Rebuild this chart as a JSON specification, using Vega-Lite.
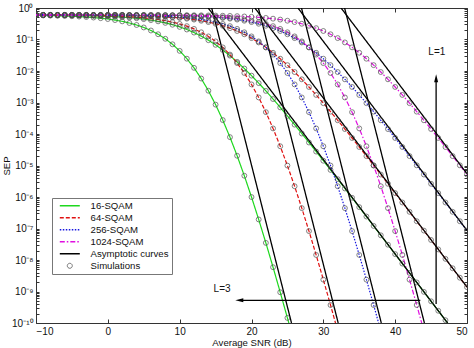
{
"$schema":"https://vega.github.io/schema/vega-lite/v6.json",
"autosize":{"type":"none"},
"width":431,"height":315,
"padding":{"left":36,"top":8,"right":7,"bottom":25},
"background":"white",
"datasets":{
"curves":[
{"s":-10,"p":-0.224,"c":"16-SQAM","L":1},{"s":-9,"p":-0.226,"c":"16-SQAM","L":1},{"s":-8,"p":-0.227,"c":"16-SQAM","L":1},{"s":-7,"p":-0.229,"c":"16-SQAM","L":1},{"s":-6,"p":-0.231,"c":"16-SQAM","L":1},{"s":-5,"p":-0.234,"c":"16-SQAM","L":1},{"s":-4,"p":-0.237,"c":"16-SQAM","L":1},{"s":-3,"p":-0.242,"c":"16-SQAM","L":1},{"s":-2,"p":-0.248,"c":"16-SQAM","L":1},{"s":-1,"p":-0.255,"c":"16-SQAM","L":1},
{"s":0,"p":-0.263,"c":"16-SQAM","L":1},{"s":1,"p":-0.274,"c":"16-SQAM","L":1},{"s":2,"p":-0.288,"c":"16-SQAM","L":1},{"s":3,"p":-0.305,"c":"16-SQAM","L":1},{"s":4,"p":-0.326,"c":"16-SQAM","L":1},{"s":5,"p":-0.353,"c":"16-SQAM","L":1},{"s":6,"p":-0.385,"c":"16-SQAM","L":1},{"s":7,"p":-0.424,"c":"16-SQAM","L":1},{"s":8,"p":-0.472,"c":"16-SQAM","L":1},{"s":9,"p":-0.531,"c":"16-SQAM","L":1},
{"s":10,"p":-0.600,"c":"16-SQAM","L":1},{"s":11,"p":-0.683,"c":"16-SQAM","L":1},{"s":12,"p":-0.780,"c":"16-SQAM","L":1},{"s":13,"p":-0.893,"c":"16-SQAM","L":1},{"s":14,"p":-1.022,"c":"16-SQAM","L":1},{"s":15,"p":-1.169,"c":"16-SQAM","L":1},{"s":16,"p":-1.333,"c":"16-SQAM","L":1},{"s":17,"p":-1.513,"c":"16-SQAM","L":1},{"s":18,"p":-1.710,"c":"16-SQAM","L":1},{"s":19,"p":-1.922,"c":"16-SQAM","L":1},
{"s":20,"p":-2.147,"c":"16-SQAM","L":1},{"s":21,"p":-2.384,"c":"16-SQAM","L":1},{"s":22,"p":-2.632,"c":"16-SQAM","L":1},{"s":23,"p":-2.890,"c":"16-SQAM","L":1},{"s":24,"p":-3.155,"c":"16-SQAM","L":1},{"s":25,"p":-3.426,"c":"16-SQAM","L":1},{"s":26,"p":-3.703,"c":"16-SQAM","L":1},{"s":27,"p":-3.985,"c":"16-SQAM","L":1},{"s":28,"p":-4.270,"c":"16-SQAM","L":1},{"s":29,"p":-4.558,"c":"16-SQAM","L":1},
{"s":30,"p":-4.848,"c":"16-SQAM","L":1},{"s":31,"p":-5.140,"c":"16-SQAM","L":1},{"s":32,"p":-5.434,"c":"16-SQAM","L":1},{"s":33,"p":-5.729,"c":"16-SQAM","L":1},{"s":34,"p":-6.025,"c":"16-SQAM","L":1},{"s":35,"p":-6.322,"c":"16-SQAM","L":1},{"s":36,"p":-6.620,"c":"16-SQAM","L":1},{"s":37,"p":-6.918,"c":"16-SQAM","L":1},{"s":38,"p":-7.216,"c":"16-SQAM","L":1},{"s":39,"p":-7.515,"c":"16-SQAM","L":1},
{"s":40,"p":-7.814,"c":"16-SQAM","L":1},{"s":41,"p":-8.113,"c":"16-SQAM","L":1},{"s":42,"p":-8.412,"c":"16-SQAM","L":1},{"s":43,"p":-8.712,"c":"16-SQAM","L":1},{"s":44,"p":-9.012,"c":"16-SQAM","L":1},{"s":45,"p":-9.311,"c":"16-SQAM","L":1},{"s":46,"p":-9.611,"c":"16-SQAM","L":1},{"s":47,"p":-9.911,"c":"16-SQAM","L":1},{"s":48,"p":-10.211,"c":"16-SQAM","L":1},
{"s":-10,"p":-0.233,"c":"16-SQAM","L":3},{"s":-9,"p":-0.237,"c":"16-SQAM","L":3},{"s":-8,"p":-0.241,"c":"16-SQAM","L":3},{"s":-7,"p":-0.246,"c":"16-SQAM","L":3},{"s":-6,"p":-0.253,"c":"16-SQAM","L":3},{"s":-5,"p":-0.262,"c":"16-SQAM","L":3},{"s":-4,"p":-0.272,"c":"16-SQAM","L":3},{"s":-3,"p":-0.286,"c":"16-SQAM","L":3},{"s":-2,"p":-0.303,"c":"16-SQAM","L":3},{"s":-1,"p":-0.324,"c":"16-SQAM","L":3},
{"s":0,"p":-0.350,"c":"16-SQAM","L":3},{"s":1,"p":-0.383,"c":"16-SQAM","L":3},{"s":2,"p":-0.424,"c":"16-SQAM","L":3},{"s":3,"p":-0.476,"c":"16-SQAM","L":3},{"s":4,"p":-0.539,"c":"16-SQAM","L":3},{"s":5,"p":-0.618,"c":"16-SQAM","L":3},{"s":6,"p":-0.714,"c":"16-SQAM","L":3},{"s":7,"p":-0.833,"c":"16-SQAM","L":3},{"s":8,"p":-0.977,"c":"16-SQAM","L":3},{"s":9,"p":-1.152,"c":"16-SQAM","L":3},
{"s":10,"p":-1.361,"c":"16-SQAM","L":3},{"s":11,"p":-1.609,"c":"16-SQAM","L":3},{"s":12,"p":-1.900,"c":"16-SQAM","L":3},{"s":13,"p":-2.239,"c":"16-SQAM","L":3},{"s":14,"p":-2.627,"c":"16-SQAM","L":3},{"s":15,"p":-3.067,"c":"16-SQAM","L":3},{"s":16,"p":-3.558,"c":"16-SQAM","L":3},{"s":17,"p":-4.100,"c":"16-SQAM","L":3},{"s":18,"p":-4.690,"c":"16-SQAM","L":3},{"s":19,"p":-5.325,"c":"16-SQAM","L":3},
{"s":20,"p":-6.001,"c":"16-SQAM","L":3},{"s":21,"p":-6.713,"c":"16-SQAM","L":3},{"s":22,"p":-7.457,"c":"16-SQAM","L":3},{"s":23,"p":-8.229,"c":"16-SQAM","L":3},{"s":24,"p":-9.024,"c":"16-SQAM","L":3},{"s":25,"p":-9.839,"c":"16-SQAM","L":3},{"s":26,"p":-10.669,"c":"16-SQAM","L":3},
{"s":-10,"p":-0.221,"c":"64-SQAM","L":1},{"s":-9,"p":-0.221,"c":"64-SQAM","L":1},{"s":-8,"p":-0.222,"c":"64-SQAM","L":1},{"s":-7,"p":-0.222,"c":"64-SQAM","L":1},{"s":-6,"p":-0.222,"c":"64-SQAM","L":1},{"s":-5,"p":-0.223,"c":"64-SQAM","L":1},{"s":-4,"p":-0.224,"c":"64-SQAM","L":1},{"s":-3,"p":-0.225,"c":"64-SQAM","L":1},{"s":-2,"p":-0.226,"c":"64-SQAM","L":1},{"s":-1,"p":-0.228,"c":"64-SQAM","L":1},
{"s":0,"p":-0.230,"c":"64-SQAM","L":1},{"s":1,"p":-0.232,"c":"64-SQAM","L":1},{"s":2,"p":-0.236,"c":"64-SQAM","L":1},{"s":3,"p":-0.240,"c":"64-SQAM","L":1},{"s":4,"p":-0.245,"c":"64-SQAM","L":1},{"s":5,"p":-0.251,"c":"64-SQAM","L":1},{"s":6,"p":-0.259,"c":"64-SQAM","L":1},{"s":7,"p":-0.269,"c":"64-SQAM","L":1},{"s":8,"p":-0.281,"c":"64-SQAM","L":1},{"s":9,"p":-0.296,"c":"64-SQAM","L":1},
{"s":10,"p":-0.315,"c":"64-SQAM","L":1},{"s":11,"p":-0.339,"c":"64-SQAM","L":1},{"s":12,"p":-0.368,"c":"64-SQAM","L":1},{"s":13,"p":-0.404,"c":"64-SQAM","L":1},{"s":14,"p":-0.447,"c":"64-SQAM","L":1},{"s":15,"p":-0.500,"c":"64-SQAM","L":1},{"s":16,"p":-0.564,"c":"64-SQAM","L":1},{"s":17,"p":-0.640,"c":"64-SQAM","L":1},{"s":18,"p":-0.730,"c":"64-SQAM","L":1},{"s":19,"p":-0.834,"c":"64-SQAM","L":1},
{"s":20,"p":-0.955,"c":"64-SQAM","L":1},{"s":21,"p":-1.093,"c":"64-SQAM","L":1},{"s":22,"p":-1.249,"c":"64-SQAM","L":1},{"s":23,"p":-1.421,"c":"64-SQAM","L":1},{"s":24,"p":-1.610,"c":"64-SQAM","L":1},{"s":25,"p":-1.814,"c":"64-SQAM","L":1},{"s":26,"p":-2.033,"c":"64-SQAM","L":1},{"s":27,"p":-2.264,"c":"64-SQAM","L":1},{"s":28,"p":-2.507,"c":"64-SQAM","L":1},{"s":29,"p":-2.760,"c":"64-SQAM","L":1},
{"s":30,"p":-3.021,"c":"64-SQAM","L":1},{"s":31,"p":-3.290,"c":"64-SQAM","L":1},{"s":32,"p":-3.564,"c":"64-SQAM","L":1},{"s":33,"p":-3.843,"c":"64-SQAM","L":1},{"s":34,"p":-4.127,"c":"64-SQAM","L":1},{"s":35,"p":-4.413,"c":"64-SQAM","L":1},{"s":36,"p":-4.702,"c":"64-SQAM","L":1},{"s":37,"p":-4.994,"c":"64-SQAM","L":1},{"s":38,"p":-5.287,"c":"64-SQAM","L":1},{"s":39,"p":-5.581,"c":"64-SQAM","L":1},
{"s":40,"p":-5.877,"c":"64-SQAM","L":1},{"s":41,"p":-6.174,"c":"64-SQAM","L":1},{"s":42,"p":-6.471,"c":"64-SQAM","L":1},{"s":43,"p":-6.769,"c":"64-SQAM","L":1},{"s":44,"p":-7.067,"c":"64-SQAM","L":1},{"s":45,"p":-7.365,"c":"64-SQAM","L":1},{"s":46,"p":-7.664,"c":"64-SQAM","L":1},{"s":47,"p":-7.963,"c":"64-SQAM","L":1},{"s":48,"p":-8.263,"c":"64-SQAM","L":1},{"s":49,"p":-8.562,"c":"64-SQAM","L":1},{"s":50,"p":-8.862,"c":"64-SQAM","L":1},
{"s":-10,"p":-0.223,"c":"64-SQAM","L":3},{"s":-9,"p":-0.224,"c":"64-SQAM","L":3},{"s":-8,"p":-0.225,"c":"64-SQAM","L":3},{"s":-7,"p":-0.226,"c":"64-SQAM","L":3},{"s":-6,"p":-0.227,"c":"64-SQAM","L":3},{"s":-5,"p":-0.229,"c":"64-SQAM","L":3},{"s":-4,"p":-0.232,"c":"64-SQAM","L":3},{"s":-3,"p":-0.235,"c":"64-SQAM","L":3},{"s":-2,"p":-0.239,"c":"64-SQAM","L":3},{"s":-1,"p":-0.243,"c":"64-SQAM","L":3},
{"s":0,"p":-0.250,"c":"64-SQAM","L":3},{"s":1,"p":-0.257,"c":"64-SQAM","L":3},{"s":2,"p":-0.267,"c":"64-SQAM","L":3},{"s":3,"p":-0.279,"c":"64-SQAM","L":3},{"s":4,"p":-0.294,"c":"64-SQAM","L":3},{"s":5,"p":-0.313,"c":"64-SQAM","L":3},{"s":6,"p":-0.336,"c":"64-SQAM","L":3},{"s":7,"p":-0.366,"c":"64-SQAM","L":3},{"s":8,"p":-0.403,"c":"64-SQAM","L":3},{"s":9,"p":-0.449,"c":"64-SQAM","L":3},
{"s":10,"p":-0.506,"c":"64-SQAM","L":3},{"s":11,"p":-0.576,"c":"64-SQAM","L":3},{"s":12,"p":-0.664,"c":"64-SQAM","L":3},{"s":13,"p":-0.771,"c":"64-SQAM","L":3},{"s":14,"p":-0.902,"c":"64-SQAM","L":3},{"s":15,"p":-1.060,"c":"64-SQAM","L":3},{"s":16,"p":-1.251,"c":"64-SQAM","L":3},{"s":17,"p":-1.479,"c":"64-SQAM","L":3},{"s":18,"p":-1.749,"c":"64-SQAM","L":3},{"s":19,"p":-2.063,"c":"64-SQAM","L":3},
{"s":20,"p":-2.426,"c":"64-SQAM","L":3},{"s":21,"p":-2.840,"c":"64-SQAM","L":3},{"s":22,"p":-3.306,"c":"64-SQAM","L":3},{"s":23,"p":-3.823,"c":"64-SQAM","L":3},{"s":24,"p":-4.389,"c":"64-SQAM","L":3},{"s":25,"p":-5.002,"c":"64-SQAM","L":3},{"s":26,"p":-5.658,"c":"64-SQAM","L":3},{"s":27,"p":-6.353,"c":"64-SQAM","L":3},{"s":28,"p":-7.082,"c":"64-SQAM","L":3},{"s":29,"p":-7.840,"c":"64-SQAM","L":3},
{"s":30,"p":-8.624,"c":"64-SQAM","L":3},{"s":31,"p":-9.429,"c":"64-SQAM","L":3},{"s":32,"p":-10.252,"c":"64-SQAM","L":3},
{"s":-10,"p":-0.220,"c":"256-SQAM","L":1},{"s":-9,"p":-0.220,"c":"256-SQAM","L":1},{"s":-8,"p":-0.220,"c":"256-SQAM","L":1},{"s":-7,"p":-0.220,"c":"256-SQAM","L":1},{"s":-6,"p":-0.221,"c":"256-SQAM","L":1},{"s":-5,"p":-0.221,"c":"256-SQAM","L":1},{"s":-4,"p":-0.221,"c":"256-SQAM","L":1},{"s":-3,"p":-0.221,"c":"256-SQAM","L":1},{"s":-2,"p":-0.222,"c":"256-SQAM","L":1},{"s":-1,"p":-0.222,"c":"256-SQAM","L":1},
{"s":0,"p":-0.222,"c":"256-SQAM","L":1},{"s":1,"p":-0.223,"c":"256-SQAM","L":1},{"s":2,"p":-0.224,"c":"256-SQAM","L":1},{"s":3,"p":-0.225,"c":"256-SQAM","L":1},{"s":4,"p":-0.226,"c":"256-SQAM","L":1},{"s":5,"p":-0.228,"c":"256-SQAM","L":1},{"s":6,"p":-0.230,"c":"256-SQAM","L":1},{"s":7,"p":-0.232,"c":"256-SQAM","L":1},{"s":8,"p":-0.236,"c":"256-SQAM","L":1},{"s":9,"p":-0.240,"c":"256-SQAM","L":1},
{"s":10,"p":-0.245,"c":"256-SQAM","L":1},{"s":11,"p":-0.251,"c":"256-SQAM","L":1},{"s":12,"p":-0.259,"c":"256-SQAM","L":1},{"s":13,"p":-0.269,"c":"256-SQAM","L":1},{"s":14,"p":-0.281,"c":"256-SQAM","L":1},{"s":15,"p":-0.296,"c":"256-SQAM","L":1},{"s":16,"p":-0.315,"c":"256-SQAM","L":1},{"s":17,"p":-0.339,"c":"256-SQAM","L":1},{"s":18,"p":-0.368,"c":"256-SQAM","L":1},{"s":19,"p":-0.404,"c":"256-SQAM","L":1},
{"s":20,"p":-0.447,"c":"256-SQAM","L":1},{"s":21,"p":-0.500,"c":"256-SQAM","L":1},{"s":22,"p":-0.564,"c":"256-SQAM","L":1},{"s":23,"p":-0.640,"c":"256-SQAM","L":1},{"s":24,"p":-0.730,"c":"256-SQAM","L":1},{"s":25,"p":-0.834,"c":"256-SQAM","L":1},{"s":26,"p":-0.955,"c":"256-SQAM","L":1},{"s":27,"p":-1.093,"c":"256-SQAM","L":1},{"s":28,"p":-1.249,"c":"256-SQAM","L":1},{"s":29,"p":-1.421,"c":"256-SQAM","L":1},
{"s":30,"p":-1.610,"c":"256-SQAM","L":1},{"s":31,"p":-1.814,"c":"256-SQAM","L":1},{"s":32,"p":-2.033,"c":"256-SQAM","L":1},{"s":33,"p":-2.264,"c":"256-SQAM","L":1},{"s":34,"p":-2.507,"c":"256-SQAM","L":1},{"s":35,"p":-2.760,"c":"256-SQAM","L":1},{"s":36,"p":-3.021,"c":"256-SQAM","L":1},{"s":37,"p":-3.290,"c":"256-SQAM","L":1},{"s":38,"p":-3.564,"c":"256-SQAM","L":1},{"s":39,"p":-3.843,"c":"256-SQAM","L":1},
{"s":40,"p":-4.127,"c":"256-SQAM","L":1},{"s":41,"p":-4.413,"c":"256-SQAM","L":1},{"s":42,"p":-4.702,"c":"256-SQAM","L":1},{"s":43,"p":-4.994,"c":"256-SQAM","L":1},{"s":44,"p":-5.287,"c":"256-SQAM","L":1},{"s":45,"p":-5.581,"c":"256-SQAM","L":1},{"s":46,"p":-5.877,"c":"256-SQAM","L":1},{"s":47,"p":-6.174,"c":"256-SQAM","L":1},{"s":48,"p":-6.471,"c":"256-SQAM","L":1},{"s":49,"p":-6.769,"c":"256-SQAM","L":1},{"s":50,"p":-7.067,"c":"256-SQAM","L":1},
{"s":-10,"p":-0.221,"c":"256-SQAM","L":3},{"s":-9,"p":-0.221,"c":"256-SQAM","L":3},{"s":-8,"p":-0.221,"c":"256-SQAM","L":3},{"s":-7,"p":-0.221,"c":"256-SQAM","L":3},{"s":-6,"p":-0.222,"c":"256-SQAM","L":3},{"s":-5,"p":-0.222,"c":"256-SQAM","L":3},{"s":-4,"p":-0.223,"c":"256-SQAM","L":3},{"s":-3,"p":-0.224,"c":"256-SQAM","L":3},{"s":-2,"p":-0.225,"c":"256-SQAM","L":3},{"s":-1,"p":-0.226,"c":"256-SQAM","L":3},
{"s":0,"p":-0.227,"c":"256-SQAM","L":3},{"s":1,"p":-0.229,"c":"256-SQAM","L":3},{"s":2,"p":-0.232,"c":"256-SQAM","L":3},{"s":3,"p":-0.235,"c":"256-SQAM","L":3},{"s":4,"p":-0.239,"c":"256-SQAM","L":3},{"s":5,"p":-0.243,"c":"256-SQAM","L":3},{"s":6,"p":-0.250,"c":"256-SQAM","L":3},{"s":7,"p":-0.257,"c":"256-SQAM","L":3},{"s":8,"p":-0.267,"c":"256-SQAM","L":3},{"s":9,"p":-0.279,"c":"256-SQAM","L":3},
{"s":10,"p":-0.294,"c":"256-SQAM","L":3},{"s":11,"p":-0.313,"c":"256-SQAM","L":3},{"s":12,"p":-0.336,"c":"256-SQAM","L":3},{"s":13,"p":-0.366,"c":"256-SQAM","L":3},{"s":14,"p":-0.403,"c":"256-SQAM","L":3},{"s":15,"p":-0.449,"c":"256-SQAM","L":3},{"s":16,"p":-0.506,"c":"256-SQAM","L":3},{"s":17,"p":-0.576,"c":"256-SQAM","L":3},{"s":18,"p":-0.664,"c":"256-SQAM","L":3},{"s":19,"p":-0.771,"c":"256-SQAM","L":3},
{"s":20,"p":-0.902,"c":"256-SQAM","L":3},{"s":21,"p":-1.060,"c":"256-SQAM","L":3},{"s":22,"p":-1.251,"c":"256-SQAM","L":3},{"s":23,"p":-1.479,"c":"256-SQAM","L":3},{"s":24,"p":-1.749,"c":"256-SQAM","L":3},{"s":25,"p":-2.063,"c":"256-SQAM","L":3},{"s":26,"p":-2.426,"c":"256-SQAM","L":3},{"s":27,"p":-2.840,"c":"256-SQAM","L":3},{"s":28,"p":-3.306,"c":"256-SQAM","L":3},{"s":29,"p":-3.823,"c":"256-SQAM","L":3},
{"s":30,"p":-4.389,"c":"256-SQAM","L":3},{"s":31,"p":-5.002,"c":"256-SQAM","L":3},{"s":32,"p":-5.658,"c":"256-SQAM","L":3},{"s":33,"p":-6.353,"c":"256-SQAM","L":3},{"s":34,"p":-7.082,"c":"256-SQAM","L":3},{"s":35,"p":-7.840,"c":"256-SQAM","L":3},{"s":36,"p":-8.624,"c":"256-SQAM","L":3},{"s":37,"p":-9.429,"c":"256-SQAM","L":3},{"s":38,"p":-10.252,"c":"256-SQAM","L":3},
{"s":-10,"p":-0.220,"c":"1024-SQAM","L":1},{"s":-9,"p":-0.220,"c":"1024-SQAM","L":1},{"s":-8,"p":-0.220,"c":"1024-SQAM","L":1},{"s":-7,"p":-0.220,"c":"1024-SQAM","L":1},{"s":-6,"p":-0.220,"c":"1024-SQAM","L":1},{"s":-5,"p":-0.220,"c":"1024-SQAM","L":1},{"s":-4,"p":-0.220,"c":"1024-SQAM","L":1},{"s":-3,"p":-0.220,"c":"1024-SQAM","L":1},{"s":-2,"p":-0.221,"c":"1024-SQAM","L":1},{"s":-1,"p":-0.221,"c":"1024-SQAM","L":1},
{"s":0,"p":-0.221,"c":"1024-SQAM","L":1},{"s":1,"p":-0.221,"c":"1024-SQAM","L":1},{"s":2,"p":-0.221,"c":"1024-SQAM","L":1},{"s":3,"p":-0.221,"c":"1024-SQAM","L":1},{"s":4,"p":-0.222,"c":"1024-SQAM","L":1},{"s":5,"p":-0.222,"c":"1024-SQAM","L":1},{"s":6,"p":-0.222,"c":"1024-SQAM","L":1},{"s":7,"p":-0.223,"c":"1024-SQAM","L":1},{"s":8,"p":-0.224,"c":"1024-SQAM","L":1},{"s":9,"p":-0.225,"c":"1024-SQAM","L":1},
{"s":10,"p":-0.226,"c":"1024-SQAM","L":1},{"s":11,"p":-0.228,"c":"1024-SQAM","L":1},{"s":12,"p":-0.230,"c":"1024-SQAM","L":1},{"s":13,"p":-0.232,"c":"1024-SQAM","L":1},{"s":14,"p":-0.236,"c":"1024-SQAM","L":1},{"s":15,"p":-0.240,"c":"1024-SQAM","L":1},{"s":16,"p":-0.245,"c":"1024-SQAM","L":1},{"s":17,"p":-0.251,"c":"1024-SQAM","L":1},{"s":18,"p":-0.259,"c":"1024-SQAM","L":1},{"s":19,"p":-0.269,"c":"1024-SQAM","L":1},
{"s":20,"p":-0.281,"c":"1024-SQAM","L":1},{"s":21,"p":-0.296,"c":"1024-SQAM","L":1},{"s":22,"p":-0.315,"c":"1024-SQAM","L":1},{"s":23,"p":-0.339,"c":"1024-SQAM","L":1},{"s":24,"p":-0.368,"c":"1024-SQAM","L":1},{"s":25,"p":-0.404,"c":"1024-SQAM","L":1},{"s":26,"p":-0.447,"c":"1024-SQAM","L":1},{"s":27,"p":-0.500,"c":"1024-SQAM","L":1},{"s":28,"p":-0.564,"c":"1024-SQAM","L":1},{"s":29,"p":-0.640,"c":"1024-SQAM","L":1},
{"s":30,"p":-0.730,"c":"1024-SQAM","L":1},{"s":31,"p":-0.834,"c":"1024-SQAM","L":1},{"s":32,"p":-0.955,"c":"1024-SQAM","L":1},{"s":33,"p":-1.093,"c":"1024-SQAM","L":1},{"s":34,"p":-1.249,"c":"1024-SQAM","L":1},{"s":35,"p":-1.421,"c":"1024-SQAM","L":1},{"s":36,"p":-1.610,"c":"1024-SQAM","L":1},{"s":37,"p":-1.814,"c":"1024-SQAM","L":1},{"s":38,"p":-2.033,"c":"1024-SQAM","L":1},{"s":39,"p":-2.264,"c":"1024-SQAM","L":1},
{"s":40,"p":-2.507,"c":"1024-SQAM","L":1},{"s":41,"p":-2.760,"c":"1024-SQAM","L":1},{"s":42,"p":-3.021,"c":"1024-SQAM","L":1},{"s":43,"p":-3.290,"c":"1024-SQAM","L":1},{"s":44,"p":-3.564,"c":"1024-SQAM","L":1},{"s":45,"p":-3.843,"c":"1024-SQAM","L":1},{"s":46,"p":-4.127,"c":"1024-SQAM","L":1},{"s":47,"p":-4.413,"c":"1024-SQAM","L":1},{"s":48,"p":-4.702,"c":"1024-SQAM","L":1},{"s":49,"p":-4.994,"c":"1024-SQAM","L":1},{"s":50,"p":-5.287,"c":"1024-SQAM","L":1},
{"s":-10,"p":-0.220,"c":"1024-SQAM","L":3},{"s":-9,"p":-0.220,"c":"1024-SQAM","L":3},{"s":-8,"p":-0.220,"c":"1024-SQAM","L":3},{"s":-7,"p":-0.220,"c":"1024-SQAM","L":3},{"s":-6,"p":-0.220,"c":"1024-SQAM","L":3},{"s":-5,"p":-0.221,"c":"1024-SQAM","L":3},{"s":-4,"p":-0.221,"c":"1024-SQAM","L":3},{"s":-3,"p":-0.221,"c":"1024-SQAM","L":3},{"s":-2,"p":-0.221,"c":"1024-SQAM","L":3},{"s":-1,"p":-0.221,"c":"1024-SQAM","L":3},
{"s":0,"p":-0.222,"c":"1024-SQAM","L":3},{"s":1,"p":-0.222,"c":"1024-SQAM","L":3},{"s":2,"p":-0.223,"c":"1024-SQAM","L":3},{"s":3,"p":-0.224,"c":"1024-SQAM","L":3},{"s":4,"p":-0.225,"c":"1024-SQAM","L":3},{"s":5,"p":-0.226,"c":"1024-SQAM","L":3},{"s":6,"p":-0.227,"c":"1024-SQAM","L":3},{"s":7,"p":-0.229,"c":"1024-SQAM","L":3},{"s":8,"p":-0.232,"c":"1024-SQAM","L":3},{"s":9,"p":-0.235,"c":"1024-SQAM","L":3},
{"s":10,"p":-0.239,"c":"1024-SQAM","L":3},{"s":11,"p":-0.243,"c":"1024-SQAM","L":3},{"s":12,"p":-0.250,"c":"1024-SQAM","L":3},{"s":13,"p":-0.257,"c":"1024-SQAM","L":3},{"s":14,"p":-0.267,"c":"1024-SQAM","L":3},{"s":15,"p":-0.279,"c":"1024-SQAM","L":3},{"s":16,"p":-0.294,"c":"1024-SQAM","L":3},{"s":17,"p":-0.313,"c":"1024-SQAM","L":3},{"s":18,"p":-0.336,"c":"1024-SQAM","L":3},{"s":19,"p":-0.366,"c":"1024-SQAM","L":3},
{"s":20,"p":-0.403,"c":"1024-SQAM","L":3},{"s":21,"p":-0.449,"c":"1024-SQAM","L":3},{"s":22,"p":-0.506,"c":"1024-SQAM","L":3},{"s":23,"p":-0.576,"c":"1024-SQAM","L":3},{"s":24,"p":-0.664,"c":"1024-SQAM","L":3},{"s":25,"p":-0.771,"c":"1024-SQAM","L":3},{"s":26,"p":-0.902,"c":"1024-SQAM","L":3},{"s":27,"p":-1.060,"c":"1024-SQAM","L":3},{"s":28,"p":-1.251,"c":"1024-SQAM","L":3},{"s":29,"p":-1.479,"c":"1024-SQAM","L":3},
{"s":30,"p":-1.749,"c":"1024-SQAM","L":3},{"s":31,"p":-2.063,"c":"1024-SQAM","L":3},{"s":32,"p":-2.426,"c":"1024-SQAM","L":3},{"s":33,"p":-2.840,"c":"1024-SQAM","L":3},{"s":34,"p":-3.306,"c":"1024-SQAM","L":3},{"s":35,"p":-3.823,"c":"1024-SQAM","L":3},{"s":36,"p":-4.389,"c":"1024-SQAM","L":3},{"s":37,"p":-5.002,"c":"1024-SQAM","L":3},{"s":38,"p":-5.658,"c":"1024-SQAM","L":3},{"s":39,"p":-6.353,"c":"1024-SQAM","L":3},
{"s":40,"p":-7.082,"c":"1024-SQAM","L":3},{"s":41,"p":-7.840,"c":"1024-SQAM","L":3},{"s":42,"p":-8.624,"c":"1024-SQAM","L":3},{"s":43,"p":-9.429,"c":"1024-SQAM","L":3},{"s":44,"p":-10.252,"c":"1024-SQAM","L":3}
],
"asym":[
{"s":13.97,"p":0,"c":"Asymptotic curves","id":"16-1"},{"s":47.3,"p":-10,"c":"Asymptotic curves","id":"16-1"},
{"s":20.47,"p":0,"c":"Asymptotic curves","id":"64-1"},{"s":50,"p":-8.86,"c":"Asymptotic curves","id":"64-1"},
{"s":26.47,"p":0,"c":"Asymptotic curves","id":"256-1"},{"s":50,"p":-7.06,"c":"Asymptotic curves","id":"256-1"},
{"s":32.47,"p":0,"c":"Asymptotic curves","id":"1024-1"},{"s":50,"p":-5.26,"c":"Asymptotic curves","id":"1024-1"},
{"s":14.46,"p":0,"c":"Asymptotic curves","id":"16-3"},{"s":25.57,"p":-10,"c":"Asymptotic curves","id":"16-3"},
{"s":20.96,"p":0,"c":"Asymptotic curves","id":"64-3"},{"s":32.07,"p":-10,"c":"Asymptotic curves","id":"64-3"},
{"s":26.96,"p":0,"c":"Asymptotic curves","id":"256-3"},{"s":38.07,"p":-10,"c":"Asymptotic curves","id":"256-3"},
{"s":32.96,"p":0,"c":"Asymptotic curves","id":"1024-3"},{"s":44.07,"p":-10,"c":"Asymptotic curves","id":"1024-3"}
],
"arrows":[
{"s":45.7,"p":-9.4,"a":"v"},{"s":45.7,"p":-2.3,"a":"v"},
{"s":43.5,"p":-9.28,"a":"h"},{"s":18.4,"p":-9.28,"a":"h"}
],
"heads":[{"s":45.7,"p":-2.23,"dir":"up"},{"s":18.3,"p":-9.28,"dir":"left"}],
"notes":[{"s":45.8,"p":-1.4,"t":"L=1"},{"s":15.9,"p":-8.92,"t":"L=3"}]
},
"resolve":{"axis":{"x":"independent","y":"independent"}},
"layer":[
{"data":{"name":"curves"},
 "mark":{"type":"line","clip":true,"strokeWidth":1.2},
 "encoding":{
  "x":{"field":"s","type":"quantitative","scale":{"domain":[-10,50],"nice":false,"zero":false},
       "axis":{"orient":"bottom","values":[-10,0,10,20,30,40,50],"tickSize":-4,"labelPadding":7,"title":"Average SNR (dB)","titlePadding":1}},
  "y":{"field":"p","type":"quantitative","scale":{"domain":[-10,0],"nice":false,"zero":false},
       "axis":{"orient":"left","values":[-10,-9.699,-9.523,-9.398,-9.301,-9.222,-9.155,-9.097,-9.046,-9,-8.699,-8.523,-8.398,-8.301,-8.222,-8.155,-8.097,-8.046,-8,-7.699,-7.523,-7.398,-7.301,-7.222,-7.155,-7.097,-7.046,-7,-6.699,-6.523,-6.398,-6.301,-6.222,-6.155,-6.097,-6.046,-6,-5.699,-5.523,-5.398,-5.301,-5.222,-5.155,-5.097,-5.046,-5,-4.699,-4.523,-4.398,-4.301,-4.222,-4.155,-4.097,-4.046,-4,-3.699,-3.523,-3.398,-3.301,-3.222,-3.155,-3.097,-3.046,-3,-2.699,-2.523,-2.398,-2.301,-2.222,-2.155,-2.097,-2.046,-2,-1.699,-1.523,-1.398,-1.301,-1.222,-1.155,-1.097,-1.046,-1,-0.699,-0.523,-0.398,-0.301,-0.222,-0.155,-0.097,-0.046,0],
        "labelExpr":"datum.value % 1 === 0 ? ['10⁻¹⁰','10⁻⁹','10⁻⁸','10⁻⁷','10⁻⁶','10⁻⁵','10⁻⁴','10⁻³','10⁻²','10⁻¹','10⁰'][datum.value+10] : ''",
        "labelOverlap":false,"tickSize":-3,"labelPadding":6,"title":"SEP","titlePadding":0}},
  "color":{"field":"c","type":"nominal",
     "scale":{"domain":["16-SQAM","64-SQAM","256-SQAM","1024-SQAM","Asymptotic curves","Simulations"],"range":["#1ed81e","#e01010","#1515e0","#e010e0","#000000","#555555"]},
     "legend":{"orient":"none","legendX":16,"legendY":190,"title":null,"padding":3,"rowPadding":1,"symbolSize":100,"symbolOffset":10,"labelOffset":16,
       "encode":{"symbols":{"update":{"shape":{"signal":"datum.label === 'Simulations' ? 'M-0.5,0A0.5,0.5,0,1,0,0.5,0A0.5,0.5,0,1,0,-0.5,0Z' : 'M-2,0L2,0'"},"strokeWidth":{"signal":"datum.label === 'Simulations' ? 0.8 : 1.5"}}}}}},
  "strokeDash":{"field":"c","type":"nominal",
     "scale":{"domain":["16-SQAM","64-SQAM","256-SQAM","1024-SQAM","Asymptotic curves","Simulations"],"range":[[1,0],[4,2],[1.5,1.5],[5,2,1.5,2],[1,0],[1,0]]},
     "legend":{"orient":"none","legendX":16,"legendY":190,"title":null,"padding":3,"rowPadding":1,"symbolSize":100,"symbolOffset":10,"labelOffset":16,
       "encode":{"symbols":{"update":{"shape":{"signal":"datum.label === 'Simulations' ? 'M-0.5,0A0.5,0.5,0,1,0,0.5,0A0.5,0.5,0,1,0,-0.5,0Z' : 'M-2,0L2,0'"},"strokeWidth":{"signal":"datum.label === 'Simulations' ? 0.8 : 1.5"}}}}}},
  "detail":{"field":"L","type":"nominal"}
 }},
{"data":{"name":"asym"},
 "mark":{"type":"line","clip":true,"strokeWidth":1.3},
 "encoding":{
  "x":{"field":"s","type":"quantitative","axis":{"orient":"top","values":[-10,0,10,20,30,40,50],"tickSize":-4,"labels":false,"title":null}},
  "y":{"field":"p","type":"quantitative","axis":{"orient":"right","values":[-10,-9.699,-9.523,-9.398,-9.301,-9.222,-9.155,-9.097,-9.046,-9,-8.699,-8.523,-8.398,-8.301,-8.222,-8.155,-8.097,-8.046,-8,-7.699,-7.523,-7.398,-7.301,-7.222,-7.155,-7.097,-7.046,-7,-6.699,-6.523,-6.398,-6.301,-6.222,-6.155,-6.097,-6.046,-6,-5.699,-5.523,-5.398,-5.301,-5.222,-5.155,-5.097,-5.046,-5,-4.699,-4.523,-4.398,-4.301,-4.222,-4.155,-4.097,-4.046,-4,-3.699,-3.523,-3.398,-3.301,-3.222,-3.155,-3.097,-3.046,-3,-2.699,-2.523,-2.398,-2.301,-2.222,-2.155,-2.097,-2.046,-2,-1.699,-1.523,-1.398,-1.301,-1.222,-1.155,-1.097,-1.046,-1,-0.699,-0.523,-0.398,-0.301,-0.222,-0.155,-0.097,-0.046,0],"tickSize":-3,"labels":false,"title":null}},
  "color":{"field":"c","type":"nominal"},
  "strokeDash":{"field":"c","type":"nominal"},
  "detail":{"field":"id","type":"nominal"}
 }},
{"data":{"name":"curves"},
 "mark":{"type":"point","shape":"circle","filled":false,"size":24,"strokeWidth":0.8,"color":"#4a4a4a","opacity":0.85,"clip":true},
 "encoding":{
  "x":{"field":"s","type":"quantitative","axis":null},
  "y":{"field":"p","type":"quantitative","axis":null}
 }},
{"data":{"name":"arrows"},
 "mark":{"type":"line","color":"black","strokeWidth":1.3},
 "encoding":{
  "x":{"field":"s","type":"quantitative","axis":null},
  "y":{"field":"p","type":"quantitative","axis":null},
  "detail":{"field":"a","type":"nominal"}
 }},
{"data":{"name":"heads"},
 "mark":{"type":"point","filled":true,"color":"black","opacity":1,"size":64},
 "encoding":{
  "x":{"field":"s","type":"quantitative","axis":null},
  "y":{"field":"p","type":"quantitative","axis":null},
  "shape":{"field":"dir","type":"nominal","scale":{"domain":["up","left"],"range":["M0,-1L-0.5,1L0.5,1Z","M-1,0L1,-0.5L1,0.5Z"]},"legend":null}
 }},
{"data":{"name":"notes"},
 "mark":{"type":"text","font":"Liberation Sans","fontSize":10,"color":"#111"},
 "encoding":{
  "x":{"field":"s","type":"quantitative","axis":null},
  "y":{"field":"p","type":"quantitative","axis":null},
  "text":{"field":"t"}
 }}
],
"config":{
 "view":{"stroke":null},
 "axis":{"grid":false,"domainColor":"#333","tickColor":"#333","domainWidth":1,"tickWidth":1,"labelFont":"Liberation Sans","labelFontSize":10,"labelColor":"#111","titleFont":"Liberation Sans","titleFontSize":9.6,"titleFontWeight":"normal","titleColor":"#111"},
 "legend":{"strokeColor":"#777","fillColor":"white","labelFont":"Liberation Sans","labelFontSize":9.6,"labelColor":"#111","symbolStrokeWidth":1.5}
}
}
